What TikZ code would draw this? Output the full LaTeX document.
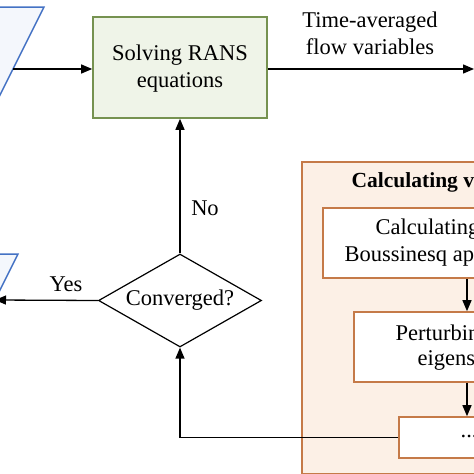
\documentclass[tikz,border=0pt]{standalone}
\usepackage{fontspec}
\setmainfont{Liberation Serif}
\usetikzlibrary{arrows.meta,shapes.geometric}
\definecolor{blueln}{RGB}{68,114,196}
\definecolor{bluefill}{RGB}{244,247,252}
\definecolor{greenln}{RGB}{118,146,80}
\definecolor{greenfill}{RGB}{239,244,232}
\definecolor{orangeln}{RGB}{197,122,72}
\definecolor{orangefill}{RGB}{252,240,230}
\begin{document}
\begin{tikzpicture}[x=1pt,y=-1pt,
  font=\fontsize{22.5}{27}\selectfont,
  line width=1.3pt,
  arr/.style={-{Triangle[length=11pt,width=9pt]}},
  iobox/.style={draw=blueln,fill=bluefill,line width=1.5pt},
  greenbox/.style={draw=greenln,fill=greenfill,line width=1.6pt,rectangle,inner sep=0pt},
  outerbox/.style={draw=orangeln,fill=orangefill,line width=1.6pt,rectangle,inner sep=0pt},
  innerbox/.style={draw=orangeln,fill=white,line width=1.6pt,rectangle,inner sep=0pt},
  lbl/.style={inner sep=0pt},
  decision/.style={draw,diamond,aspect=1.75,inner sep=0pt,minimum width=163pt,minimum height=93pt,line width=1.2pt}
]
\useasboundingbox (0,0) rectangle (474,474);
\clip (0,0) rectangle (474,474);

% input / output parallelograms (partly outside the picture)
\draw[iobox] (-200,7) -- (44,7) -- (-18,131) -- (-260,131) -- cycle;
\coordinate (inedge) at (13,69);
\draw[iobox] (-200,254) -- (18,254) -- (-30,350) -- (-260,350) -- cycle;
\coordinate (outedge) at (-5,300);

% solver box
\node[greenbox,minimum width=174pt,minimum height=101pt] (rans) at (180,67.5) {};
\node[lbl,align=center] (ranstxt) at (180,68.5) {Solving RANS\\equations};

% decision
\node[decision] (conv) at (180,300.5) {Converged?};

% outer orange box
\node[outerbox,minimum width=340pt,minimum height=312pt,anchor=north west] (outer) at (301,161) {};
\node[lbl,anchor=west,font=\fontsize{21.5}{26}\selectfont\bfseries] (outertitle) at (351,182) {Calculating v};

% inner boxes
\node[innerbox,minimum width=288pt,minimum height=70pt] (b1) at (467,243) {};
\node[lbl,anchor=west] (b1a) at (375,229) {Calculating};
\node[lbl,anchor=west] (b1b) at (344,256) {Boussinesq ap};

\node[innerbox,minimum width=226pt,minimum height=70pt] (b2) at (467,347) {};
\node[lbl,anchor=west] (b2a) at (395,333) {Perturbin};
\node[lbl,anchor=west] (b2b) at (417,360) {eigens};

\node[innerbox,minimum width=136pt,minimum height=41pt] (b3) at (467,437.5) {};
\node[lbl,anchor=west] (b3a) at (460,436) {...};

% connectors
\coordinate (rightend) at (474,69);
\draw[arr] (inedge) -- (rans.west |- inedge);
\draw[arr] (rans.east |- rightend) -- (rightend);
\node[lbl,align=center] (tav) at (370,33) {Time-averaged\\flow variables};

\draw[arr] (conv.north) -- (rans.south);
\node[lbl] (no) at (205,208) {No};

\draw[arr] (conv.west) -- (outedge);
\node[lbl] (yes) at (66,284) {Yes};

\draw[arr] (b1.south) -- (b2.north);
\draw[arr] (b2.south) -- (b3.north);
\draw[arr] (b3.west) -- (conv.south |- b3.west) -- (conv.south);
\end{tikzpicture}
\end{document}
